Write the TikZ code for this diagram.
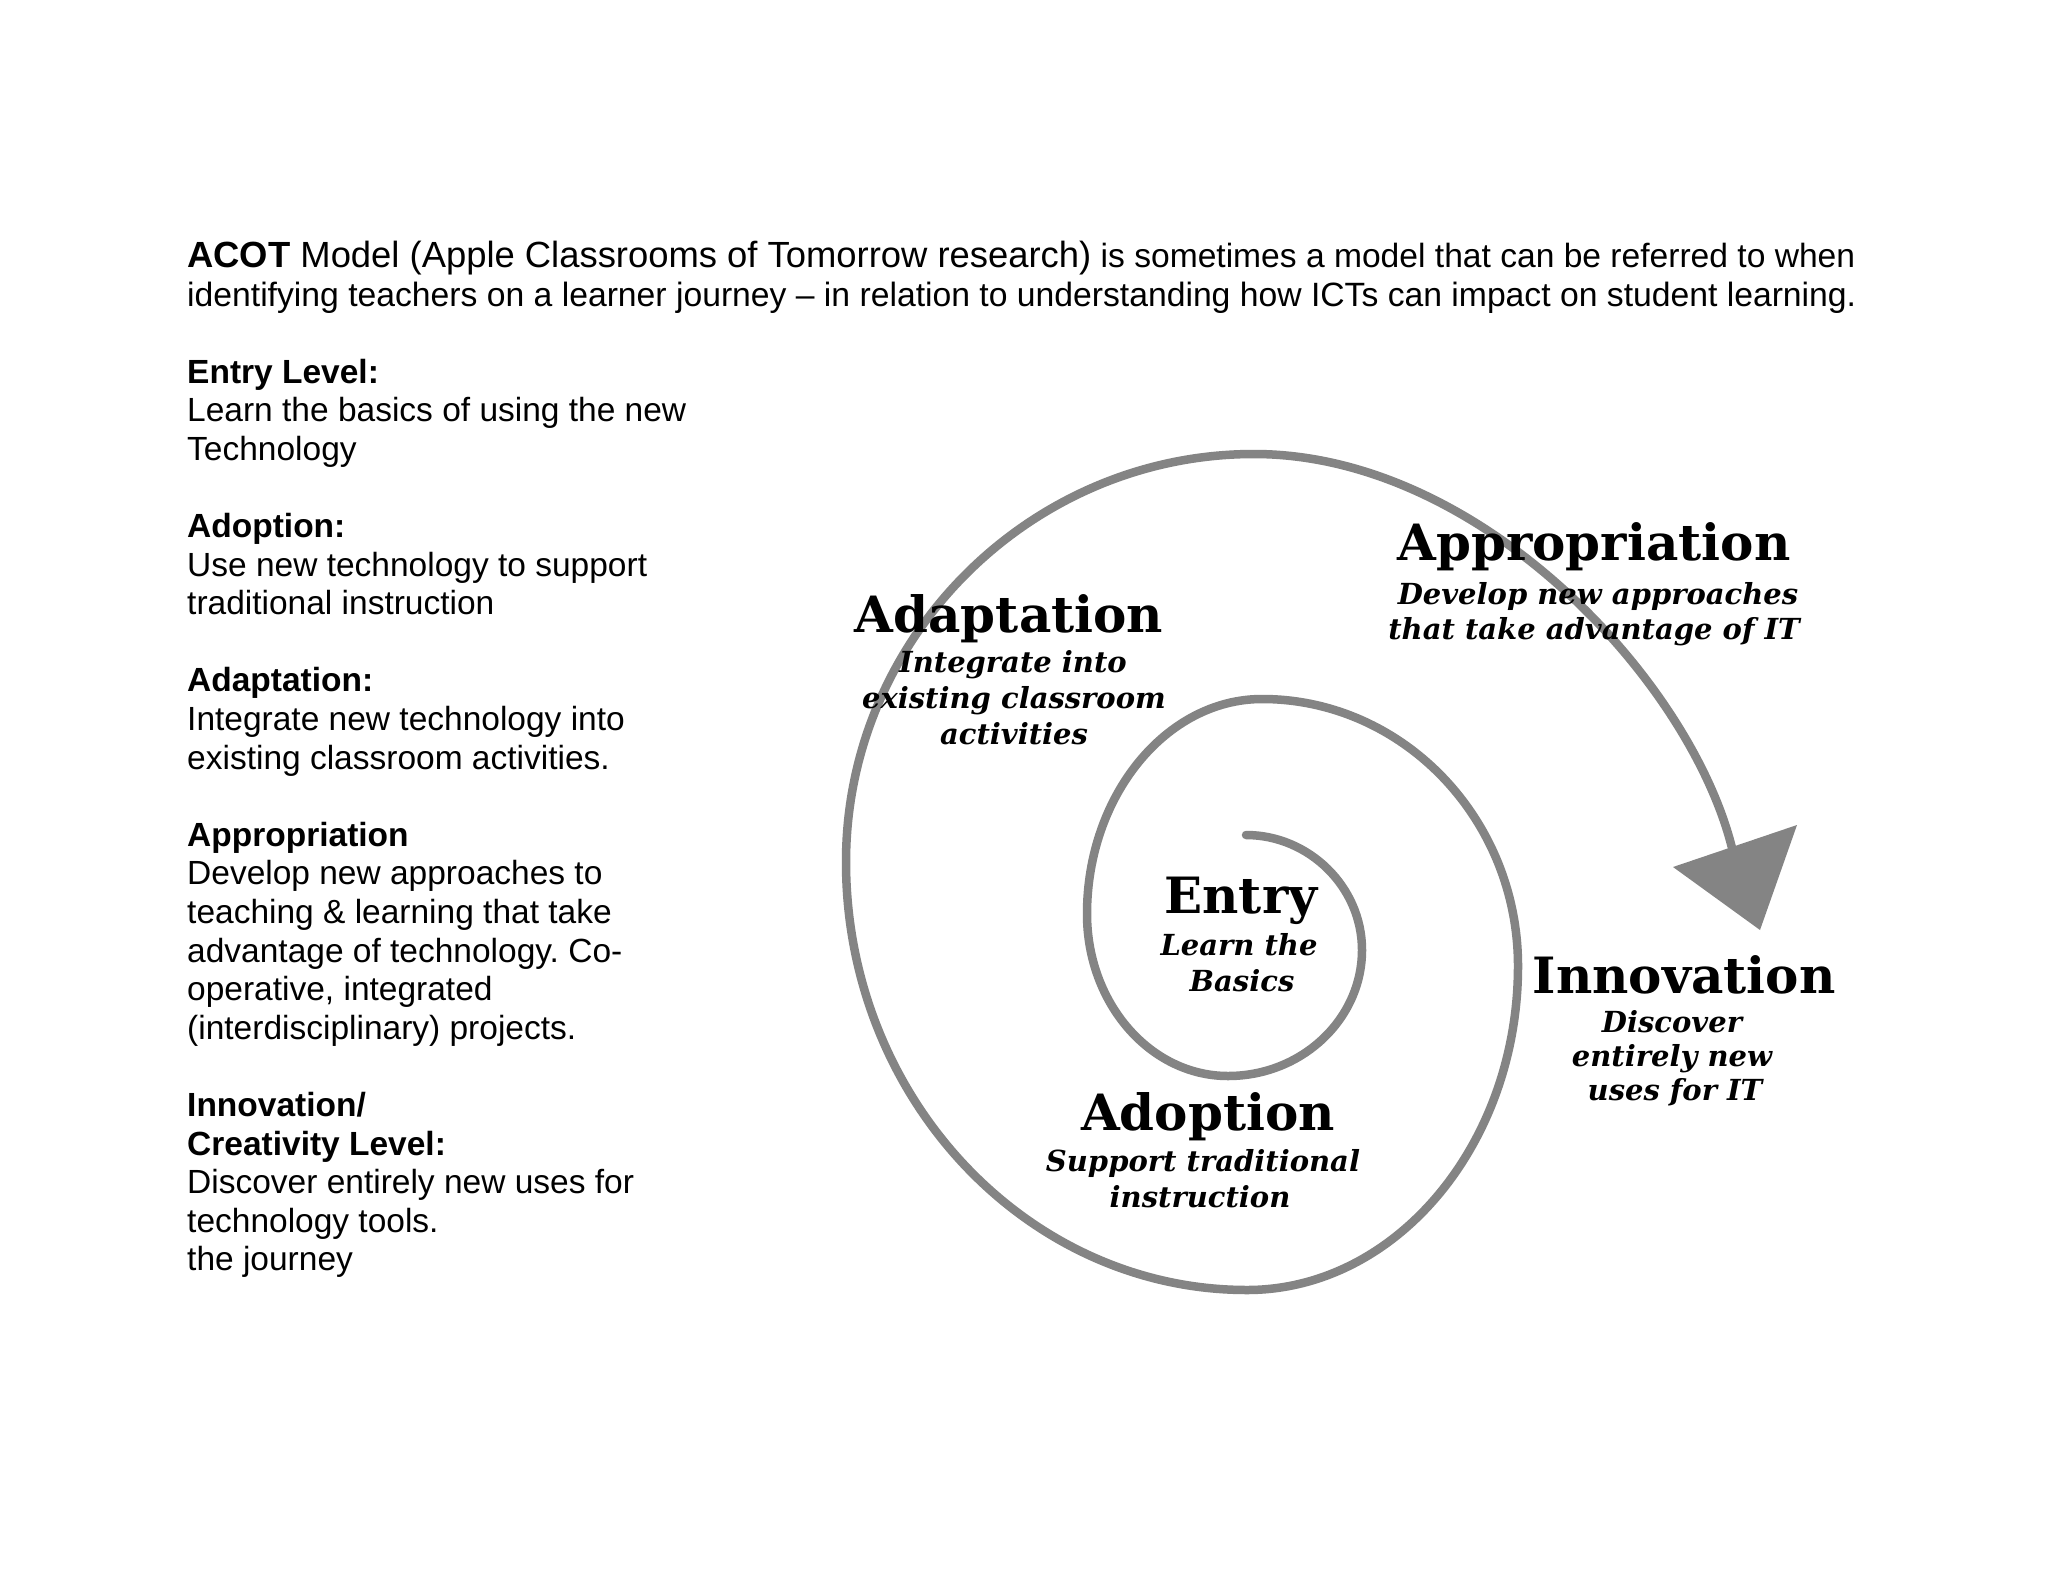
\documentclass[tikz,border=0pt]{standalone}
\usepackage{fontspec}
\setmainfont{Liberation Sans}
\newfontfamily\dserif{DejaVu Serif}
\definecolor{spiralgray}{RGB}{132,132,132}
\frenchspacing
\begin{document}
\begin{tikzpicture}[x=1pt,y=-1pt,
  lcol/.style={anchor=base west, inner sep=0pt, font=\fontsize{33.5}{38.6}\selectfont},
  lbold/.style={lcol, font=\fontsize{33.5}{38.6}\selectfont\bfseries},
  dtitle/.style={anchor=base, inner sep=0pt, font=\dserif\bfseries\fontsize{50}{54}\selectfont},
  dsub/.style={anchor=base, inner sep=0pt, font=\dserif\bfseries\itshape\fontsize{29}{33}\selectfont},
  spiral/.style={draw=spiralgray, line width=8.5pt, line cap=round}]
\useasboundingbox[fill=white] (0,0) rectangle (2048,1582);

% ---- title ----
\node[anchor=base west, inner sep=0pt] (title1) at (187,267)
  {\fontsize{36.4}{42}\selectfont\textbf{ACOT} Model (Apple Classrooms of Tomorrow research)\fontsize{33.6}{40}\selectfont{} is sometimes a model that can be referred to when};
\node[anchor=base west, inner sep=0pt, font=\fontsize{33.7}{38.6}\selectfont] (title2) at (187,306)
  {identifying teachers on a learner journey -- in relation to understanding how ICTs can impact on student learning.};

% ---- left column ----
\node[lbold] (l0)  at (187,383.0) {Entry Level:};
\node[lcol]  (l1)  at (187,421.6) {Learn the basics of using the new};
\node[lcol]  (l2)  at (187,460.2) {Technology};
\node[lbold] (l4)  at (187,537.4) {Adoption:};
\node[lcol]  (l5)  at (187,576.0) {Use new technology to support};
\node[lcol]  (l6)  at (187,614.6) {traditional instruction};
\node[lbold] (l8)  at (187,691.8) {Adaptation:};
\node[lcol]  (l9)  at (187,730.4) {Integrate new technology into};
\node[lcol]  (l10) at (187,769.0) {existing classroom activities.};
\node[lbold] (l12) at (187,846.2) {Appropriation};
\node[lcol]  (l13) at (187,884.8) {Develop new approaches to};
\node[lcol]  (l14) at (187,923.4) {teaching \& learning that take};
\node[lcol]  (l15) at (187,962.0) {advantage of technology. Co-};
\node[lcol]  (l16) at (187,1000.6) {operative, integrated};
\node[lcol]  (l17) at (187,1039.2) {(interdisciplinary) projects.};
\node[lbold] (l19) at (187,1116.4) {Innovation/};
\node[lbold] (l20) at (187,1155.0) {Creativity Level:};
\node[lcol]  (l21) at (187,1193.6) {Discover entirely new uses for};
\node[lcol]  (l22) at (187,1232.2) {technology tools.};
\node[lcol]  (l23) at (187,1270.8) {the journey};

% ---- spiral ----
\coordinate (s0) at (1246,835);
\coordinate (r1) at (1362,950);
\coordinate (b1) at (1228,1076);
\coordinate (lf2) at (1087,914);
\coordinate (t2) at (1262,699);
\coordinate (r2) at (1518,966);
\coordinate (b2) at (1247,1290);
\coordinate (lf3) at (846,862);
\coordinate (t3) at (1254,454);
\coordinate (ae) at (1732,848);
\path[spiral] (s0) .. controls (1309,835) and (1362,887) .. (r1)
  .. controls (1362,1019) and (1302,1076) .. (b1)
  .. controls (1150,1076) and (1087,1003) .. (lf2)
  .. controls (1087,796) and (1166,699) .. (t2)
  .. controls (1403,699) and (1518,819) .. (r2)
  .. controls (1518,1144) and (1396,1290) .. (b2)
  .. controls (1026,1290) and (846,1097) .. (lf3)
  .. controls (846,638) and (1030,454) .. (t3)
  .. controls (1480,454) and (1690,680) .. (ae);
\coordinate (h1) at (1673,867);
\coordinate (h2) at (1797,825);
\coordinate (h3) at (1760,930);
\fill[spiralgray] (h1) -- (h2) -- (h3) -- cycle;

% ---- diagram labels ----
\node[dtitle] (appT) at (1594,560) {Appropriation};
\node[dsub]   (app1) at (1598,604) {Develop new approaches};
\node[dsub]   (app2) at (1594,639) {that take advantage of IT};

\node[dtitle] (adaT) at (1009,632) {Adaptation};
\node[dsub]   (ada1) at (1013,672) {Integrate into};
\node[dsub]   (ada2) at (1014,708) {existing classroom};
\node[dsub]   (ada3) at (1014,744) {activities};

\node[dtitle] (entT) at (1241,913) {Entry};
\node[dsub]   (ent1) at (1239,955) {Learn the};
\node[dsub]   (ent2) at (1242,991) {Basics};

\node[dtitle] (adoT) at (1208,1130) {Adoption};
\node[dsub]   (ado1) at (1203,1171) {Support traditional};
\node[dsub]   (ado2) at (1200,1207) {instruction};

\node[dtitle] (innT) at (1684,993) {Innovation};
\node[dsub]   (inn1) at (1672,1032) {Discover};
\node[dsub]   (inn2) at (1672,1066) {entirely new};
\node[dsub]   (inn3) at (1675,1100) {uses for IT};
\end{tikzpicture}
\end{document}
